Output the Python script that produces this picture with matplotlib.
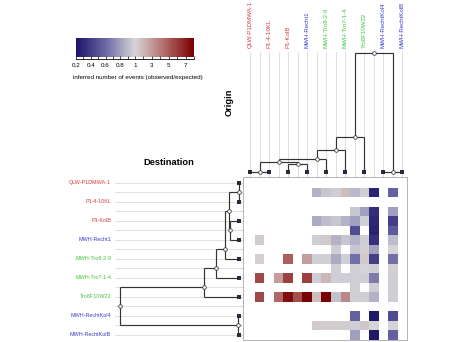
import numpy as np
import matplotlib
matplotlib.use("Agg")
import matplotlib.pyplot as plt
from matplotlib.colors import LinearSegmentedColormap, FuncNorm

W, H, DPI = 474, 342, 100
plt.rcParams["font.family"] = ["Liberation Sans", "DejaVu Sans"]

# ---------------------------------------------------------------- data
leaves = ["QLW-P1DMWA-1", "P1-4-10KL", "P1-KolB", "MWH-Recht1",
          "MWH-Tro8-2-9", "MWH-Tro7-1-4", "Tro8F10W22",
          "MWH-RechtKol4", "MWH-RechtKolB"]
leaf_group = ["red", "red", "red", "blue", "green", "green", "green",
              "blue", "blue"]
group_colors = {"red": "#d73c3c", "blue": "#3b3bcc", "green": "#3fc43f"}

# merges: (left child, right child, height); leaves are 0..8,
# each merge creates cluster 9, 10, ...
merges = [
    (0, 1, 0.0),
    (2, 3, 8.3),
    (9, 10, 10.0),
    (11, 4, 13.3),
    (12, 5, 22.3),
    (13, 6, 35.0),
    (7, 8, 0.6),
    (14, 15, 119.0),
]

# observed/expected ratio of inferred events; rows = destination node,
# columns = origin node (leaves and internal nodes in tree order)
n = np.nan
ratio = np.array([
    [n, n, n, n, n, n, n, n, n, n, n, n, n, n, n, n, n],
    [n, n, n, n, n, n, n, 0.87, 0.94, 0.97, 1.8, 0.90, 0.97, 0.28, n, 0.57, n],
    [n, n, n, n, n, n, n, n, n, n, n, n, n, n, n, n, n],
    [n, n, n, n, n, n, n, n, n, n, n, 0.94, 0.80, 0.33, n, 0.80, n],
    [n, n, n, n, n, n, n, 0.84, 0.91, 0.94, 0.87, 0.80, 0.97, 0.29, n, 0.40, n],
    [n, n, n, n, n, n, n, n, n, n, n, 0.47, n, 0.27, n, 0.54, n],
    [n, 1.3, n, n, n, n, n, 0.97, 1.4, 0.87, 0.94, 0.87, 0.97, 0.34, n, 0.91, n],
    [n, n, n, n, n, n, n, n, n, 0.97, n, 0.94, 1.2, 0.80, n, 1.0, n],
    [n, 1.2, n, n, 4.9, n, 2.8, 0.97, 0.97, 0.84, 0.97, 0.63, 1.4, 0.40, n, 0.63, n],
    [n, n, n, n, n, n, n, n, n, 0.97, n, 0.97, 1.1, 0.97, n, 1.2, n],
    [n, 5.6, n, 2.8, 5.9, n, 5.9, 0.97, 2.0, 0.97, 0.97, 0.97, 0.97, 0.67, n, 0.97, n],
    [n, n, n, n, n, n, n, n, n, n, n, 0.97, n, 0.97, n, 0.97, n],
    [n, 5.6, n, 4.6, 7.5, 5.4, 7.8, 1.8, 7.9, 0.93, 3.5, 0.97, 0.97, 0.87, n, 0.97, n],
    [n, n, n, n, n, n, n, n, n, n, n, n, n, n, n, n, n],
    [n, n, n, n, n, n, n, n, n, n, n, 0.57, n, 0.23, n, 0.47, n],
    [n, n, n, n, n, n, n, 1.4, 1.3, 1.3, 1.3, 0.97, 1.5, 1.0, n, 1.0, n],
    [n, n, n, n, n, n, n, n, n, n, n, 0.80, n, 0.23, n, 0.57, n],
])

cbar_ticks = [0.2, 0.3, 0.4, 0.5, 0.6, 0.7, 0.8, 0.9, 1, 2, 3, 4, 5, 6, 7, 8]
cbar_labels = ["0.2", "", "0.4", "", "0.6", "", "0.8", "", "1",
               "", "3", "", "5", "", "7", ""]

# ---------------------------------------------------------------- tree layout
n_leaves = len(leaves)
pos = {i: 2 * i for i in range(n_leaves)}
height = {i: 0.0 for i in range(n_leaves)}
span_end = {i: 2 * i for i in range(n_leaves)}
for k, (a, b, h) in enumerate(merges):
    node = n_leaves + k
    pos[node] = span_end[a] + 1
    span_end[node] = span_end[b]
    height[node] = h
n_nodes = 2 * n_leaves - 1

# ---------------------------------------------------------------- colour scale
def fwd(v):
    v = np.asarray(v, dtype=float)
    return np.where(v <= 1, (v - 0.2) / 0.8 * 0.5, 0.5 + (v - 1) / 7 * 0.5)

def inv(p):
    p = np.asarray(p, dtype=float)
    return np.where(p <= 0.5, 0.2 + p / 0.5 * 0.8, 1 + (p - 0.5) / 0.5 * 7)

norm = FuncNorm((fwd, inv), vmin=0.2, vmax=8)
cmap = LinearSegmentedColormap.from_list(
    "events", ["#1b1466", "#6b68a6", "#d6d6d8", "#b46a6a", "#780000"])
cmap.set_bad((1, 1, 1, 0))

# ---------------------------------------------------------------- figure
fig = plt.figure(figsize=(W / DPI, H / DPI), dpi=DPI)


def box(x0, y0, x1, y1):
    return [x0 / W, 1 - y1 / H, (x1 - x0) / W, (y1 - y0) / H]


HX0, HX1, HY0, HY1 = 242.7, 406.6, 177.0, 340.0
ax_heat = fig.add_axes(box(HX0, HY0, HX1, HY1))
ax_top = fig.add_axes(box(HX0, 0, HX1, HY0), sharex=ax_heat)
ax_left = fig.add_axes(box(0, HY0, HX0, HY1), sharey=ax_heat)
ax_cb = fig.add_axes(box(76, 38, 194, 57.3))

# heat map
ax_heat.imshow(np.ma.masked_invalid(ratio), cmap=cmap, norm=norm,
               interpolation="nearest", aspect="auto")
ax_heat.set_xlim(-0.77, 16.45)
ax_heat.set_ylim(16.55, -0.6)
ax_heat.set_xticks(range(n_nodes))
ax_heat.set_yticks(range(n_nodes))
ax_heat.tick_params(length=1.6, width=0.5, color="#a8a8a8",
                    labelleft=False, labelbottom=False,
                    top=True, bottom=False, left=True, right=False)
for sp in ax_heat.spines.values():
    sp.set_color("#b4b4b4")
    sp.set_linewidth(0.7)

LINE = "#333333"
GRID = "#d9d9d9"


def draw_tree(ax, orient):
    def P(p, h):
        return (p, h) if orient == "top" else (h, p)

    for k, (a, b, h) in enumerate(merges):
        xs, ys = zip(P(pos[a], h), P(pos[b], h))
        ax.plot(xs, ys, color=LINE, lw=0.85, zorder=2, clip_on=False,
                solid_capstyle="butt")
        for c in (a, b):
            xs, ys = zip(P(pos[c], height[c]), P(pos[c], h))
            ax.plot(xs, ys, color=LINE, lw=0.85, zorder=2, clip_on=False,
                    solid_capstyle="butt")
    lx, ly = zip(*[P(pos[i], 0.0) for i in range(n_leaves)])
    ax.plot(lx, ly, ls="none", marker="s", ms=2.3, mew=0, color="#2a2a3c",
            zorder=3, clip_on=False)
    inner = range(n_leaves, n_nodes)
    ix, iy = zip(*[P(pos[i], height[i]) for i in inner])
    ax.plot(ix, iy, ls="none", marker="o", ms=2.6, mfc="white",
            mec=LINE, mew=0.55, zorder=4, clip_on=False)


# origin tree (top)
ax_top.set_ylim(-4.7, 172.3)
ax_top.axis("off")
for p in range(n_nodes):
    ax_top.plot([p, p], [-4.7, 120.3], color=GRID, lw=0.6, zorder=1)
draw_tree(ax_top, "top")
for i, name in enumerate(leaves):
    ax_top.text(pos[i], 124.0, name, rotation=90, ha="center", va="bottom",
                fontsize=4.4, color=group_colors[leaf_group[i]])

# destination tree (left)
ax_left.set_xlim(238.7, -4.0)
ax_left.axis("off")
for p in range(n_nodes):
    ax_left.plot([123.7, -4.0], [p, p], color=GRID, lw=0.6, zorder=1)
draw_tree(ax_left, "left")
for i, name in enumerate(leaves):
    ax_left.text(127.7, pos[i], name, ha="right", va="center",
                 fontsize=3.9, color=group_colors[leaf_group[i]])

fig.text(229 / W, 1 - 102 / H, "Origin", rotation=90, ha="center",
         va="center", fontsize=6.7, fontweight="bold")
fig.text(168.5 / W, 1 - 162.7 / H, "Destination", ha="center",
         va="center", fontsize=6.7, fontweight="bold")

# colour bar
sm = plt.cm.ScalarMappable(norm=norm, cmap=cmap)
cb = fig.colorbar(sm, cax=ax_cb, orientation="horizontal")
cb.outline.set_visible(False)
cb.set_ticks(cbar_ticks, labels=cbar_labels)
cb.ax.xaxis.set_minor_locator(matplotlib.ticker.NullLocator())
sp = cb.ax.spines["bottom"]
sp.set_visible(True)
sp.set_position(("outward", 1.5))
sp.set_linewidth(0.6)
cb.ax.tick_params(axis="x", direction="in", length=2.4, width=0.5,
                  pad=2.5, labelsize=4.5)
fig.text(137.5 / W, 1 - 78 / H,
         "inferred number of events (observed/expected)",
         ha="center", va="center", fontsize=4.5)

fig.savefig("out.png", dpi=DPI)
